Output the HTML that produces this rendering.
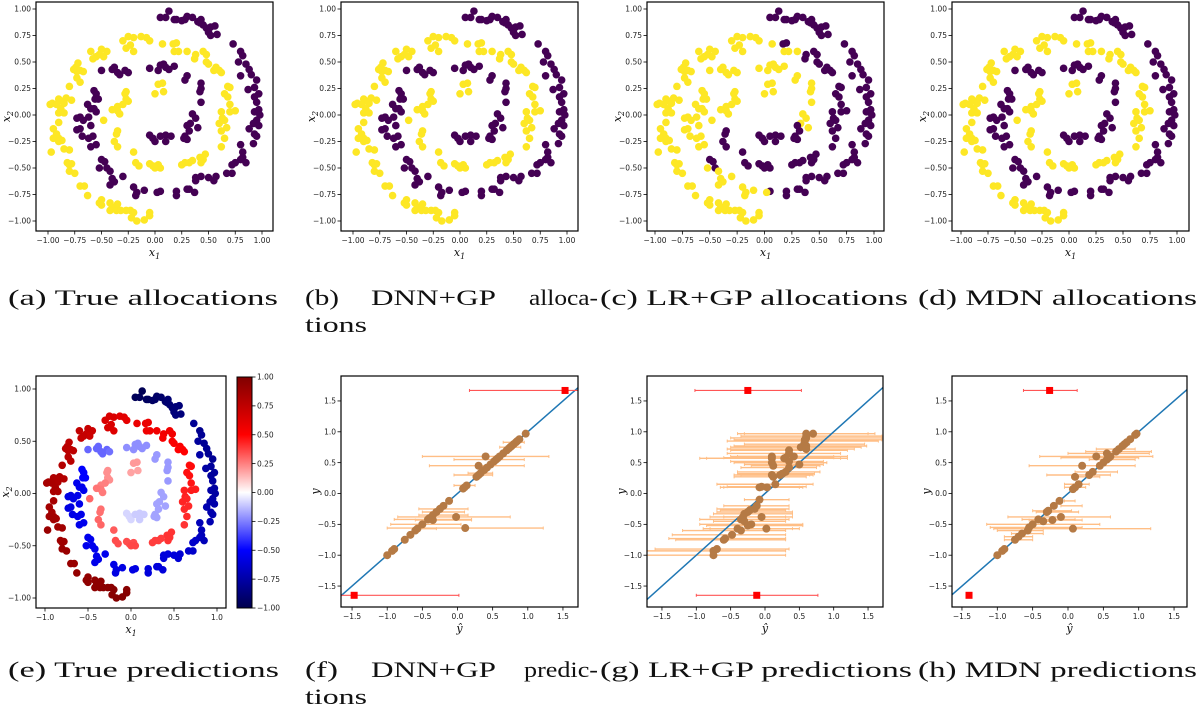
<!DOCTYPE html>
<html><head><meta charset="utf-8">
<style>
html,body{margin:0;padding:0;background:#fff;}
svg{display:block;}
.tk{font-family:"DejaVu Sans","Liberation Sans",sans-serif;font-size:7.5px;fill:#222;}
.cap{font-family:"Liberation Serif",serif;font-size:22px;fill:#111;}
.al{font-family:"DejaVu Serif","Liberation Serif",serif;font-style:italic;font-size:11px;fill:#111;}
</style></head>
<body>
<svg id="fig" width="1200" height="711" viewBox="0 0 1200 711" xmlns="http://www.w3.org/2000/svg">
<defs>
<linearGradient id="seis" x1="0" y1="0" x2="0" y2="1">
<stop offset="0" stop-color="#800000"/><stop offset="0.25" stop-color="#ff0000"/><stop offset="0.5" stop-color="#ffffff"/><stop offset="0.75" stop-color="#0000ff"/><stop offset="1" stop-color="#00004d"/>
</linearGradient>
</defs>
<g>
<text class="cap" x="8" y="305" textLength="270" lengthAdjust="spacingAndGlyphs">(a) True allocations</text>
<text class="cap" y="305"><tspan x="305" textLength="34" lengthAdjust="spacingAndGlyphs">(b)</tspan><tspan x="371" textLength="125" lengthAdjust="spacingAndGlyphs">DNN+GP</tspan><tspan x="529" textLength="69" lengthAdjust="spacingAndGlyphs">alloca-</tspan></text>
<text class="cap" x="305" y="332" textLength="62" lengthAdjust="spacingAndGlyphs">tions</text>
<text class="cap" x="600" y="305" textLength="308" lengthAdjust="spacingAndGlyphs">(c) LR+GP allocations</text>
<text class="cap" x="918" y="305" textLength="279" lengthAdjust="spacingAndGlyphs">(d) MDN allocations</text>
<text class="cap" x="8" y="677" textLength="271" lengthAdjust="spacingAndGlyphs">(e) True predictions</text>
<text class="cap" y="677"><tspan x="305" textLength="33" lengthAdjust="spacingAndGlyphs">(f)</tspan><tspan x="371" textLength="125" lengthAdjust="spacingAndGlyphs">DNN+GP</tspan><tspan x="524" textLength="74" lengthAdjust="spacingAndGlyphs">predic-</tspan></text>
<text class="cap" x="305" y="704" textLength="62" lengthAdjust="spacingAndGlyphs">tions</text>
<text class="cap" x="600" y="677" textLength="312" lengthAdjust="spacingAndGlyphs">(g) LR+GP predictions</text>
<text class="cap" x="918" y="677" textLength="279" lengthAdjust="spacingAndGlyphs">(h) MDN predictions</text>
</g>
</svg>
<script>
// samples: [x1, x2, trueLabel(1=purple), lrgpLabel, trueValue]
const samples = [
[0.13,0.98,1,1,-0.98],[0.05,0.92,1,1,-0.97],[0.1,0.92,1,1,-0.96],[0.18,0.9,1,1,-0.95],[0.2,0.9,1,1,-0.95],[0.25,0.89,1,1,-0.94],[0.28,0.9,1,1,-0.93],[0.3,0.93,1,1,-0.93],[0.35,0.92,1,1,-0.92],[0.4,0.88,1,1,-0.92],[0.42,0.87,1,1,-0.9],[0.45,0.85,1,1,-0.9],[0.43,0.9,1,1,-0.9],[0.48,0.82,1,1,-0.9],[0.52,0.83,1,1,-0.88],[0.56,0.84,1,1,-0.88],[0.5,0.78,1,1,-0.88],[0.58,0.76,1,1,-0.87],[0.52,0.75,1,1,-0.87],
[0.73,0.67,1,1,-0.8],[0.8,0.6,1,1,-0.82],[0.82,0.56,1,1,-0.8],[0.78,0.5,1,1,-0.78],[0.85,0.48,1,1,-0.8],[0.88,0.43,1,1,-0.8],[0.9,0.38,1,1,-0.8],[0.8,0.37,1,1,-0.75],[0.95,0.33,1,1,-0.8],[0.93,0.26,1,1,-0.78],[0.87,0.24,1,1,-0.76],[0.97,0.2,1,1,-0.78],[0.93,0.17,1,1,-0.78],[0.95,0.12,1,1,-0.77],[0.97,0.05,1,1,-0.76],[0.93,0.03,1,1,-0.75],[0.98,0.0,1,1,-0.76],[0.95,-0.05,1,1,-0.75],[0.92,-0.08,1,1,-0.74],[0.97,-0.1,1,1,-0.74],[0.88,-0.13,1,1,-0.72],[0.93,-0.18,1,1,-0.73],[0.95,-0.2,1,1,-0.73],[0.92,-0.27,1,1,-0.72],
[0.8,-0.28,1,1,-0.7],[0.82,-0.35,1,1,-0.7],[0.82,-0.4,1,1,-0.7],[0.8,-0.42,1,1,-0.68],[0.85,-0.45,1,1,-0.7],[0.75,-0.45,1,1,-0.66],[0.72,-0.47,1,1,-0.65],[0.72,-0.55,1,1,-0.65],[0.67,-0.55,1,1,-0.64],[0.57,-0.58,1,1,-0.62],[0.55,-0.62,1,1,-0.62],[0.5,-0.59,1,1,-0.6],[0.43,-0.58,1,1,-0.6],[0.38,-0.59,1,1,-0.6],[0.38,-0.62,1,1,-0.6],[0.3,-0.7,1,1,-0.6],[0.32,-0.7,1,1,-0.6],[0.37,-0.73,1,1,-0.6],[0.2,-0.72,1,1,-0.6],[0.2,-0.76,1,1,-0.6],[0.05,-0.72,1,1,-0.58],[0.02,-0.73,1,0,-0.58],[-0.1,-0.71,1,0,-0.58],[-0.17,-0.73,1,0,-0.58],[-0.18,-0.76,1,0,-0.58],[-0.2,-0.68,1,0,-0.57],
[-0.5,0.42,1,0,-0.3],[-0.4,0.43,1,0,-0.3],[-0.38,0.45,1,0,-0.3],[-0.35,0.4,1,0,-0.3],[-0.33,0.38,1,0,-0.3],[-0.28,0.42,1,0,-0.3],[-0.25,0.4,1,0,-0.28],[-0.57,0.23,1,0,-0.5],[-0.55,0.2,1,0,-0.5],[-0.56,0.15,1,0,-0.5],[-0.53,0.15,1,0,-0.5],[-0.63,0.1,1,0,-0.55],[-0.6,0.06,1,0,-0.55],[-0.57,0.06,1,0,-0.55],[-0.55,0.03,1,0,-0.55],[-0.7,-0.02,1,0,-0.58],[-0.73,-0.03,1,0,-0.58],[-0.67,-0.05,1,0,-0.57],[-0.62,-0.02,1,0,-0.56],[-0.7,-0.13,1,0,-0.58],[-0.73,-0.14,1,0,-0.58],[-0.6,-0.1,1,0,-0.56],[-0.68,-0.2,1,0,-0.57],[-0.62,-0.22,1,0,-0.56],[-0.58,-0.2,1,0,-0.56],[-0.6,-0.3,1,0,-0.56],[-0.55,-0.28,1,0,-0.55],[-0.5,-0.42,1,1,-0.55],[-0.47,-0.44,1,1,-0.55],[-0.52,-0.5,1,0,-0.55],[-0.45,-0.5,1,1,-0.55],[-0.42,-0.53,1,0,-0.55],[-0.3,-0.58,1,0,-0.55],[-0.4,-0.6,1,0,-0.56],[-0.38,-0.63,1,0,-0.56],[-0.42,-0.66,1,0,-0.56],
[-0.05,-0.19,1,1,-0.08],[-0.02,-0.22,1,1,-0.08],[0.0,-0.25,1,1,-0.08],[0.05,-0.2,1,1,-0.1],[0.1,-0.19,1,1,-0.1],[0.1,-0.25,1,1,-0.1],[0.15,-0.2,1,1,-0.1],
[-0.05,0.44,1,0,-0.22],[0.05,0.47,1,0,-0.22],[0.08,0.48,1,0,-0.22],[0.1,0.45,1,0,-0.22],[0.13,0.43,1,0,-0.22],[0.03,0.42,1,0,-0.22],[0.18,0.46,1,0,-0.22],[0.3,0.37,1,0,-0.2],[0.28,0.33,1,0,-0.2],[0.43,0.3,1,0,-0.2],[0.43,0.25,1,0,-0.2],[0.42,0.22,1,0,-0.2],[0.43,0.12,1,0,-0.2],[0.35,0.01,1,0,-0.18],[0.38,-0.03,1,0,-0.18],[0.33,-0.08,1,0,-0.18],[0.4,-0.12,1,0,-0.18],[0.3,-0.1,1,1,-0.18],[0.32,-0.15,1,1,-0.18],[0.28,-0.2,1,1,-0.18],[0.3,-0.23,1,1,-0.18],[0.27,-0.22,1,1,-0.18],
[-0.3,0.7,0,0,0.65],[-0.25,0.74,0,0,0.65],[-0.2,0.73,0,0,0.65],[-0.13,0.74,0,0,0.62],[-0.08,0.73,0,0,0.62],[-0.05,0.7,0,0,0.6],[-0.27,0.63,0,0,0.65],[-0.23,0.66,0,0,0.65],[-0.2,0.6,0,0,0.63],[-0.45,0.6,0,0,0.7],[-0.5,0.62,0,0,0.72],[-0.52,0.57,0,0,0.72],[-0.48,0.55,0,0,0.7],[-0.55,0.55,0,0,0.73],[-0.58,0.53,0,0,0.73],[-0.6,0.6,0,0,0.74],[-0.72,0.49,0,0,0.76],[-0.74,0.45,0,0,0.77],[-0.76,0.43,0,0,0.77],[-0.73,0.41,0,0,0.77],[-0.7,0.42,0,0,0.76],[-0.67,0.41,0,0,0.76],[-0.73,0.35,0,0,0.78],[-0.7,0.31,0,0,0.78],[-0.8,0.27,0,0,0.8],[-0.9,0.15,0,0,0.82],[-0.87,0.13,0,0,0.82],[-0.83,0.16,0,0,0.82],[-0.85,0.11,0,0,0.82],[-0.78,0.14,0,0,0.8],[-0.98,0.1,0,0,0.85],[-0.96,0.11,0,0,0.85],[-0.92,0.1,0,0,0.84],[-0.88,0.06,0,0,0.84],[-0.9,0.02,0,0,0.84],[-0.85,0.02,0,0,0.83],[-0.9,-0.07,0,0,0.85],[-0.95,-0.13,0,0,0.86],[-0.92,-0.18,0,0,0.86],[-0.9,-0.22,0,0,0.86],[-0.95,-0.22,0,0,0.87],[-0.87,-0.24,0,0,0.86],[-0.9,-0.25,0,0,0.87],[-0.97,-0.35,0,0,0.9],[-0.85,-0.32,0,0,0.87],[-0.8,-0.33,0,0,0.87],[-0.82,-0.45,0,0,0.88],[-0.8,-0.47,0,0,0.88],[-0.78,-0.46,0,0,0.88],[-0.8,-0.53,0,0,0.9],[-0.75,-0.55,0,0,0.9],[-0.7,-0.67,0,0,0.9],[-0.66,-0.67,0,0,0.9],[-0.63,-0.76,0,0,0.92],[-0.5,-0.8,0,0,0.93],[-0.52,-0.83,0,0,0.93],[-0.5,-0.85,0,0,0.94],[-0.42,-0.83,0,0,0.94],[-0.4,-0.87,0,0,0.95],[-0.42,-0.9,0,0,0.95],[-0.36,-0.9,0,0,0.95],[-0.32,-0.9,0,0,0.96],[-0.35,-0.84,0,0,0.95],[-0.27,-0.9,0,0,0.96],[-0.23,-0.9,0,0,0.96],[-0.2,-0.92,0,0,0.97],[-0.22,-0.97,0,0,0.97],[-0.17,-1.0,0,0,0.98],[-0.1,-0.99,0,0,0.98],[-0.05,-0.95,0,0,0.98],[-0.05,-0.92,0,0,0.97],
[0.07,0.67,0,0,0.58],[0.17,0.67,0,1,0.58],[0.2,0.68,0,1,0.58],[0.18,0.6,0,0,0.56],[0.22,0.6,0,0,0.56],[0.3,0.6,0,0,0.55],[0.38,0.57,0,1,0.55],[0.45,0.6,0,1,0.55],[0.48,0.57,0,1,0.55],[0.37,0.53,0,1,0.53],[0.48,0.5,0,1,0.53],[0.5,0.48,0,1,0.52],[0.57,0.45,0,1,0.52],[0.6,0.42,0,1,0.5],[0.55,0.42,0,1,0.5],[0.62,0.4,0,1,0.5],[0.68,0.27,0,1,0.48],[0.7,0.26,0,1,0.48],[0.65,0.2,0,1,0.47],[0.68,0.17,0,1,0.47],[0.7,0.1,0,1,0.46],[0.75,0.04,0,1,0.45],[0.7,0.03,0,1,0.45],[0.62,0.03,0,1,0.44],[0.63,-0.03,0,1,0.44],[0.65,-0.05,0,1,0.43],[0.6,-0.08,0,1,0.43],[0.67,-0.12,0,1,0.42],[0.62,-0.15,0,1,0.42],[0.65,-0.22,0,1,0.42],[0.62,-0.3,0,1,0.4],[0.47,-0.37,0,1,0.4],[0.45,-0.42,0,1,0.4],[0.42,-0.4,0,1,0.4],[0.43,-0.45,0,1,0.4],[0.35,-0.43,0,1,0.38],[0.32,-0.45,0,1,0.38],[0.28,-0.45,0,1,0.38],[0.25,-0.47,0,1,0.38],
[0.03,0.29,0,0,0.2],[0.07,0.3,0,0,0.2],[0.08,0.22,0,0,0.18],[0.0,0.2,0,0,0.18],[-0.27,0.22,0,0,0.22],[-0.28,0.2,0,0,0.22],[-0.27,0.15,0,0,0.22],[-0.25,0.13,0,0,0.22],[-0.3,0.1,0,0,0.25],[-0.35,0.08,0,0,0.25],[-0.35,0.04,0,0,0.26],[-0.4,0.05,0,0,0.27],[-0.33,0.01,0,0,0.26],[-0.48,-0.05,0,0,0.3],[-0.35,-0.15,0,1,0.28],[-0.36,-0.18,0,1,0.28],[-0.38,-0.25,0,1,0.3],[-0.35,-0.3,0,1,0.3],[-0.2,-0.35,0,1,0.32],[-0.18,-0.45,0,1,0.35],[-0.15,-0.48,0,1,0.35],[-0.05,-0.46,0,1,0.35],[-0.02,-0.48,0,1,0.35],[0.03,-0.47,0,1,0.35],[0.05,-0.5,0,1,0.36],[0.0,-0.5,0,1,0.36]
];
const alloc2dTicks = [-1.00,-0.75,-0.50,-0.25,0.00,0.25,0.50,0.75,1.00];
const trueXTicks = [-1.0,-0.5,0.0,0.5,1.0];
const colorbarTicks = [1.00,0.75,0.50,0.25,0.00,-0.25,-0.50,-0.75,-1.00];
const predTicks = [-1.5,-1.0,-0.5,0.0,0.5,1.0,1.5];
// prediction panels: [yhat, y, errLow, errHigh]  (errLow==errHigh==yhat => no bar)
const dnnPoints = [
[-1.0,-1.0,-1.0,-1.0],[-0.93,-0.93,-0.93,-0.93],[-0.9,-0.9,-0.9,-0.9],[-0.75,-0.75,-0.75,-0.75],[-0.67,-0.67,-0.67,-0.67],[-0.6,-0.6,-0.6,-0.6],[-0.57,-0.57,-0.6,-0.3],[-0.5,-0.5,-0.95,0.05],[-0.42,-0.42,-0.9,0.2],[-0.4,-0.4,-0.4,-0.4],[-0.35,-0.35,-0.55,0.15],[-0.3,-0.3,-0.5,0.1],[-0.25,-0.25,-0.55,0.15],[-0.2,-0.2,-0.2,-0.2],[-0.12,-0.12,-0.12,-0.12],[-0.02,-0.38,-0.85,0.75],[0.11,-0.56,-1.0,1.22],[-0.35,-0.43,-0.6,0.2],
[0.08,0.08,0.08,0.08],[0.1,0.1,0.1,0.1],[0.13,0.13,-0.05,0.25],[0.27,0.27,0.27,0.27],[0.3,0.3,-0.05,0.5],[0.33,0.33,0.15,0.5],[0.38,0.38,0.38,0.38],[0.42,0.42,0.42,0.42],[0.47,0.47,0.47,0.47],[0.52,0.52,0.52,0.52],[0.55,0.55,-0.05,0.95],[0.57,0.57,0.57,0.57],[0.6,0.6,0.6,0.6],[0.4,0.6,-0.5,1.3],[0.3,0.45,-0.4,0.95],[0.65,0.65,0.65,0.65],[0.7,0.7,0.7,0.7],[0.73,0.73,0.73,0.73],[0.75,0.75,0.6,0.9],[0.77,0.77,0.77,0.77],[0.8,0.8,0.8,0.8],[0.83,0.83,0.65,0.95],[0.85,0.85,0.85,0.85],[0.88,0.88,0.88,0.88],[0.97,0.97,0.97,0.97]
];
const dnnOutliers = [[1.53,1.67,0.17,1.72],[-1.47,-1.65,-1.72,0.02]];
const lrPoints = [
[0.6,0.97,-0.4,1.6],[0.7,0.97,-0.3,1.5],[0.6,0.93,-0.35,1.7],[0.6,0.9,-0.5,1.7],[0.58,0.87,-0.45,1.7],[0.58,0.85,-0.55,1.65],[0.57,0.8,-0.3,1.45],[0.6,0.77,-0.45,1.48],[0.52,0.75,-0.5,1.4],[0.6,0.72,-0.55,1.3],[0.35,0.7,-0.5,1.2],[0.35,0.65,-0.55,1.1],[0.1,0.6,-0.5,1.2],[0.1,0.57,-0.95,1.2],[0.3,0.58,-0.6,1.0],[0.28,0.57,-0.85,1.1],[0.42,0.6,-0.4,1.0],[0.35,0.52,-0.5,0.85],[0.1,0.5,-0.45,0.9],[0.12,0.45,-0.2,0.8],[0.5,0.47,-0.3,0.85],[0.35,0.42,-0.35,0.75],[0.3,0.35,-0.4,0.8],[0.25,0.32,-0.4,0.72],[0.22,0.3,-0.35,0.7],[0.1,0.3,-0.45,0.65],[0.12,0.27,-0.45,0.6],[0.15,0.15,-0.7,0.7],[0.03,0.1,-0.65,0.55],[-0.08,0.1,-0.6,0.5],[-0.05,0.11,-0.55,0.6],
[-0.08,-0.1,-0.3,0.35],[-0.12,-0.2,-0.6,0.35],[-0.15,-0.25,-0.7,0.35],[-0.22,-0.27,-0.65,0.3],[-0.25,-0.3,-0.7,0.4],[-0.3,-0.33,-0.75,0.4],[-0.32,-0.38,-0.8,0.4],[-0.35,-0.42,-0.95,0.35],[-0.05,-0.38,-0.6,0.3],[-0.3,-0.45,-0.75,0.3],[-0.2,-0.5,-0.95,0.55],[-0.25,-0.52,-0.85,0.55],[-0.4,-0.57,-0.9,0.5],[-0.35,-0.6,-1.2,0.3],[0.02,-0.57,-0.8,0.4],[-0.48,-0.67,-1.35,0.3],[-0.58,-0.73,-1.4,0.3],[-0.6,-0.75,-1.3,0.3],[-0.7,-0.9,-1.6,0.35],[-0.75,-0.93,-1.72,0.3],[-0.75,-1.0,-1.72,0.3]
];
const lrOutliers = [[-0.25,1.67,-1.02,0.53],[-0.12,-1.65,-1.0,0.77]];
const mdnPoints = [
[-1.0,-1.0,-1.0,-1.0],[-0.93,-0.93,-0.93,-0.93],[-0.9,-0.9,-0.9,-0.9],[-0.75,-0.75,-0.9,-0.5],[-0.7,-0.7,-0.9,-0.5],[-0.65,-0.65,-0.8,-0.35],[-0.57,-0.6,-1.0,-0.35],[0.07,-0.57,-1.05,1.17],[-0.55,-0.55,-1.1,0.2],[-0.5,-0.5,-1.15,0.45],[-0.35,-0.45,-0.35,-0.2],[-0.42,-0.42,-0.65,0.1],[-0.1,-0.38,-0.85,0.6],[-0.3,-0.3,-0.45,0.15],[-0.28,-0.28,-0.5,0.05],[-0.22,-0.43,-0.55,0.2],[-0.2,-0.2,-0.1,0.2],[-0.12,-0.12,-0.05,0.1],
[0.07,0.07,0.07,0.07],[0.1,0.1,-0.05,0.25],[0.15,0.15,-0.05,0.3],[0.1,0.27,0.05,0.45],[0.3,0.3,-0.3,0.6],[0.35,0.35,0.1,0.7],[0.2,0.45,-0.55,0.95],[0.55,0.55,0.3,0.95],[0.58,0.58,-0.1,1.0],[0.4,0.6,-0.4,1.2],[0.55,0.65,0.0,1.15],[0.68,0.68,0.25,1.18],[0.72,0.72,0.4,0.95],[0.77,0.77,0.77,0.77],[0.8,0.8,0.8,0.8],[0.83,0.83,0.83,0.83],[0.88,0.88,0.88,0.88],[0.95,0.95,0.95,0.95],[0.97,0.97,0.97,0.97],[0.6,0.6,0.6,0.6],[0.45,0.45,0.45,0.45],[0.5,0.5,0.5,0.5]
];
const mdnOutliers = [[-0.26,1.67,-0.63,0.13],[-1.4,-1.65,-1.4,-1.4]];

const NS='http://www.w3.org/2000/svg';
const fig=document.getElementById('fig');
function el(tag,attrs,parent){const e=document.createElementNS(NS,tag);for(const k in attrs)e.setAttribute(k,attrs[k]);(parent||fig).appendChild(e);return e;}
function fmt(v,d){const s=Math.abs(v).toFixed(d);return (v<0?'\u2212':'')+s;}
function seismic(v){const t=(v+1)/2;const st=[[0,[0,0,77]],[0.25,[0,0,255]],[0.5,[255,255,255]],[0.75,[255,0,0]],[1,[128,0,0]]];
 for(let i=0;i<4;i++){const a=st[i],b=st[i+1];if(t<=b[0]){const f=(t-a[0])/(b[0]-a[0]);const c=a[1].map((x,j)=>Math.round(x+(b[1][j]-x)*f));return 'rgb('+c.join(',')+')';}}return 'rgb(128,0,0)';}

function makeAxes(name,box,xr,yr){
 const g=el('g',{});
 
 
 const sx=v=>box.x0+(v-xr[0])/(xr[1]-xr[0])*(box.x1-box.x0);
 const sy=v=>box.y1-(v-yr[0])/(yr[1]-yr[0])*(box.y1-box.y0);
 const plot=el('g',{},g);
 
 
 return {g,plot,sx,sy,box};
}
function frame(ax,xt,yt,xd,yd,xlab,ylab,ylabX){
 const {g,sx,sy,box}=ax;
 const r=el('rect',{x:box.x0,y:box.y0,width:box.x1-box.x0,height:box.y1-box.y0,fill:'none',stroke:'#000','stroke-width':1.2},g);
 
 
 xt.forEach(v=>{const x=sx(v);el('line',{x1:x,x2:x,y1:box.y1,y2:box.y1+3.5,stroke:'#000','stroke-width':0.8},g);
  const t=el('text',{x:x,y:box.y1+12,'text-anchor':'middle',class:'tk'},g);t.textContent=fmt(v,xd);
  
  });
 yt.forEach(v=>{const y=sy(v);el('line',{x1:box.x0-3.5,x2:box.x0,y1:y,y2:y,stroke:'#000','stroke-width':0.8},g);
  const t=el('text',{x:box.x0-5,y:y+2.7,'text-anchor':'end',class:'tk'},g);t.textContent=fmt(v,yd);
  
  });
 const xl=el('text',{x:(box.x0+box.x1)/2,y:box.y1+25,'text-anchor':'middle',class:'al'},g);
 
 
 xl.innerHTML=xlab;
 const cy=(box.y0+box.y1)/2;
 const yl=el('text',{x:ylabX,y:cy,'text-anchor':'middle',class:'al',transform:'rotate(-90 '+ylabX+' '+cy+')'},g);
 
 
 yl.innerHTML=ylab;
}
const X1='x<tspan font-size="8" dy="3">1</tspan>', X2='x<tspan font-size="8" dy="3">2</tspan>';

const allocPanels=[
 {name:'true-allocations-chart',cx:155,sc:107,off:0,key:2},
 {name:'dnn-gp-allocations-chart',cx:460,sc:107,off:305,key:2},
 {name:'lr-gp-allocations-chart',cx:764.5,sc:109.5,off:611,key:3},
 {name:'mdn-allocations-chart',cx:1069,sc:108,off:916,key:2}
];
allocPanels.forEach(p=>{
 const box={x0:36+p.off,x1:273+p.off,y0:2,y1:231};
 const xr=[(box.x0-p.cx)/p.sc,(box.x1-p.cx)/p.sc];
 const yr=[(115-box.y1)/106,(115-box.y0)/106];
 const ax=makeAxes(p.name,box,xr,yr);
 samples.forEach(s=>{
  const c=el('circle',{cx:ax.sx(s[0]),cy:ax.sy(s[1]),r:3.8,fill:s[p.key]?'#440154':'#fde725'},ax.plot);
  
  
 });
 frame(ax,alloc2dTicks,alloc2dTicks,2,2,X1,X2,box.x0-26);
});

(function(){
 const box={x0:36,x1:226,y0:376,y1:608};
 const ax=makeAxes('true-predictions-chart',box,[(36-131)/86,(226-131)/86],[(493.5-608)/104.5,(493.5-376)/104.5]);
 samples.forEach(s=>{
  const c=el('circle',{cx:ax.sx(s[0]),cy:ax.sy(s[1]),r:3.8,fill:seismic(s[4])},ax.plot);
  
  
 });
 frame(ax,trueXTicks,trueXTicks,1,2,X1,X2,box.x0-27);
 const cb=el('g',{});
 
 
 el('rect',{x:237,y:377,width:15,height:231,fill:'url(#seis)',stroke:'#000','stroke-width':1},cb);
 colorbarTicks.forEach(v=>{const y=377+(1-v)/2*231;el('line',{x1:252,x2:255.5,y1:y,y2:y,stroke:'#000','stroke-width':0.8},cb);
  const t=el('text',{x:257,y:y+2.7,class:'tk'},cb);t.textContent=fmt(v,2);
  
  });
})();

const predPanels=[
 {name:'dnn-gp-predictions-chart',x0:341,x1:578,cx:457.5,sc:70.3,pts:dnnPoints,out:dnnOutliers},
 {name:'lr-gp-predictions-chart',x0:647,x1:883,cx:765,sc:68.7,pts:lrPoints,out:lrOutliers},
 {name:'mdn-predictions-chart',x0:952,x1:1187,cx:1068,sc:70.7,pts:mdnPoints,out:mdnOutliers}
];
predPanels.forEach(p=>{
 const box={x0:p.x0,x1:p.x1,y0:376,y1:607};
 const ax=makeAxes(p.name,box,[(p.x0-p.cx)/p.sc,(p.x1-p.cx)/p.sc],[(493.5-607)/61.7,(493.5-376)/61.7]);
 const cp=el('clipPath',{id:'clip-'+p.name});
 el('rect',{x:box.x0,y:box.y0,width:box.x1-box.x0,height:box.y1-box.y0},cp);
 ax.plot.setAttribute('clip-path','url(#clip-'+p.name+')');
 const bars=el('g',{opacity:0.5},ax.plot);
 
 
 p.pts.forEach(d=>{ if(d[3]-d[2]>0.01){const y=ax.sy(d[1]);
  const l=el('line',{x1:ax.sx(d[2]),x2:ax.sx(d[3]),y1:y,y2:y,stroke:'#ff7f0e','stroke-width':1.4},bars);
  
  
  [d[2],d[3]].forEach(v=>el('line',{x1:ax.sx(v),x2:ax.sx(v),y1:y-1.5,y2:y+1.5,stroke:'#ff7f0e','stroke-width':1},bars));}});
 const ln=el('line',{x1:ax.sx(-2),y1:ax.sy(-2),x2:ax.sx(2),y2:ax.sy(2),stroke:'#1f77b4','stroke-width':1.5},ax.plot);
 
 
 p.pts.forEach(d=>{
  const c=el('circle',{cx:ax.sx(d[0]),cy:ax.sy(d[1]),r:4,fill:'#b57a45'},ax.plot);
  
  
 });
 p.out.forEach(d=>{const y=ax.sy(d[1]);
  if(d[3]-d[2]>0.01){const l=el('line',{x1:ax.sx(d[2]),x2:ax.sx(d[3]),y1:y,y2:y,stroke:'#ff5555','stroke-width':1.2},ax.plot);
   
   
   [d[2],d[3]].forEach(v=>el('line',{x1:ax.sx(v),x2:ax.sx(v),y1:y-1.5,y2:y+1.5,stroke:'#ff5555','stroke-width':1},ax.plot));}
  const r=el('rect',{x:ax.sx(d[0])-3.5,y:y-3.5,width:7,height:7,fill:'#ff0000'},ax.plot);
  
  
 });
 frame(ax,predTicks,predTicks,1,1,'y\u0302','y',box.x0-22);
});
</script>
</body></html>
